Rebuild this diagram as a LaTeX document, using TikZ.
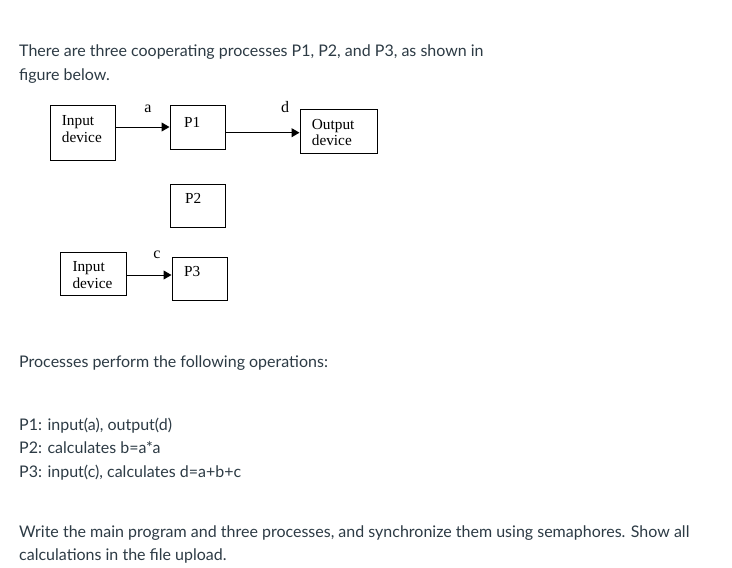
\documentclass[tikz,border=0pt]{standalone}
\usepackage{fontspec}
\setmainfont{Lato}
\newfontfamily\figfont{Liberation Serif}
\usetikzlibrary{arrows.meta}
\definecolor{txt}{HTML}{2D3B45}
\tikzset{
  box/.style={draw=black, line width=1pt, inner sep=0pt},
  lbl/.style={font=\figfont\fontsize{15.3}{15.3}\selectfont, anchor=base west, inner sep=0pt, text=black},
  lblc/.style={font=\figfont\fontsize{16}{16}\selectfont, anchor=base, inner sep=0pt, text=black},
  para/.style={font=\fontsize{16}{16}\selectfont, anchor=base west, inner sep=0pt, text=txt},
  arr/.style={line width=1pt, -{Triangle[length=8pt,width=9pt]}}
}
\begin{document}
\begin{tikzpicture}[x=1pt,y=-1pt]
\useasboundingbox[fill=white] (0,0) rectangle (732,568);
% paragraph text
\node[para] (t1) at (19,56.7) {There are three cooperating processes P1, P2, and P3, as shown in};
\node[para] (t2) at (19,80) {figure below.};
\node[para] (t3) at (19,367) {Processes perform the following operations:};
\node[para] (t4) at (19,430) {P1: input(a), output(d)};
\node[para] (t5) at (19,453.5) {P2: calculates b=a*a};
\node[para] (t6) at (19,477) {P3: input(c), calculates d=a+b+c};
\node[para] (t7) at (19,537) {Write the main program and three processes, and synchronize them using semaphores. Show all};
\node[para] (t8) at (19,560) {calculations in the file upload.};
% boxes
\node[box, minimum width=65.3pt, minimum height=55pt] (in1) at (83.3,132.5) {};
\node[box, minimum width=55pt, minimum height=44pt] (p1) at (197.5,127) {};
\node[box, minimum width=77pt, minimum height=44pt] (out) at (338.5,131) {};
\node[box, minimum width=55pt, minimum height=43pt] (p2) at (197.5,205.5) {};
\node[box, minimum width=66.3pt, minimum height=43pt] (in2) at (93.8,273.5) {};
\node[box, minimum width=55pt, minimum height=43pt] (p3) at (199.5,278.5) {};
% box texts
\node[lbl] (in1a) at (61.7,125.7) {Input};
\node[lbl] (in1b) at (61.7,142.7) {device};
\node[lbl] (p1t) at (184,127) {P1};
\node[lbl] (outa) at (311.7,129) {Output};
\node[lbl] (outb) at (311.7,145.5) {device};
\node[lbl] (p2t) at (185,203) {P2};
\node[lbl] (in2a) at (72.3,271.7) {Input};
\node[lbl] (in2b) at (72.3,288) {device};
\node[lbl] (p3t) at (184,276) {P3};
% arrow labels
\node[lblc] (la) at (148,112.7) {a};
\node[lblc] (ld) at (285,112.7) {d};
\node[lblc] (lc) at (157,258) {c};
% connectors
\draw[arr] (p1.west -| in1.east) -- (p1.west);
\draw[arr] ([yshift=-1.7pt]out.west -| p1.east) -- ([yshift=-1.7pt]out.west);
\draw[arr] ([yshift=3.5pt]p3.west -| in2.east) -- ([yshift=3.5pt]p3.west);
\end{tikzpicture}
\end{document}
